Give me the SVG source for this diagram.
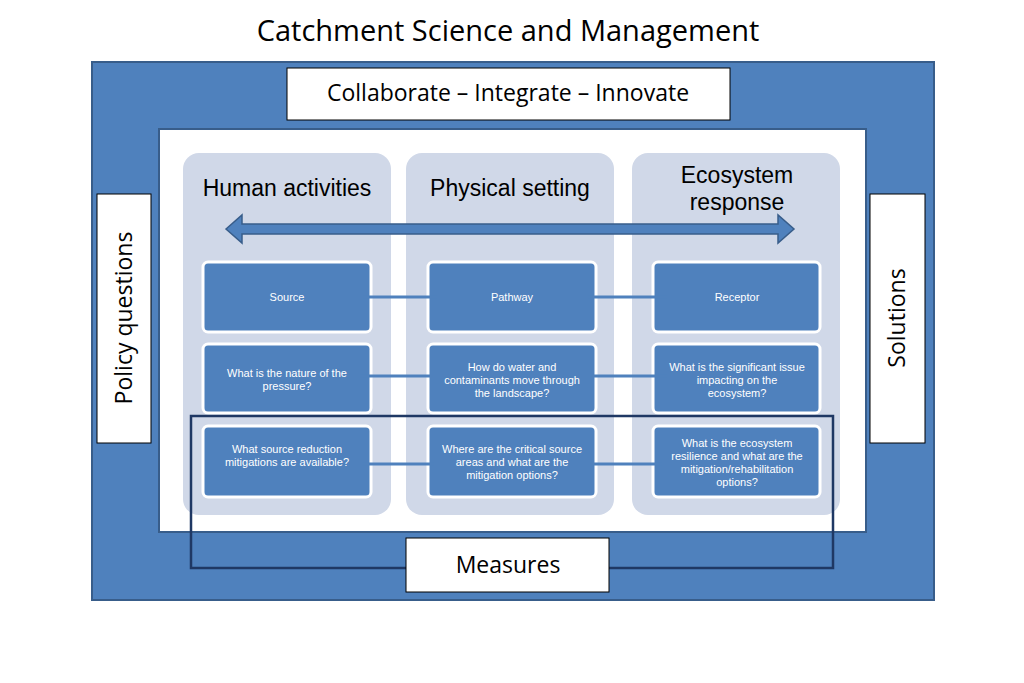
<svg xmlns="http://www.w3.org/2000/svg" width="1024" height="683" viewBox="0 0 1024 683">
<defs><style>
.t{font-family:"Liberation Sans",Arial,sans-serif;fill:#fff;font-size:11px;text-anchor:middle}
.h{font-family:"Liberation Sans",Arial,sans-serif;fill:#000;font-size:23px;text-anchor:middle}
.c{font-family:"Open Sans","Liberation Sans",sans-serif;fill:#000;text-anchor:middle}
.n{fill:#4f81bd;stroke:#fff;stroke-width:3}
.col{fill:#d0d8e8}
.wb{fill:#fff;stroke:#000;stroke-width:1}
.cn{stroke:#4f81bd;stroke-width:3;fill:none}
</style></defs>
<rect width="1024" height="683" fill="#fff"/>
<text class="c" x="508" y="41" font-size="29">Catchment Science and Management</text>
<rect x="92" y="62" width="842" height="538" fill="#4f81bd" stroke="#385d8a" stroke-width="2"/>
<g id="collab"><rect class="wb" x="287" y="68" width="443" height="52"/><text class="c" x="508" y="101" font-size="23">Collaborate – Integrate – Innovate</text></g>
<rect x="159" y="129" width="707" height="403" fill="#fff" stroke="#385d8a" stroke-width="2"/>
<g id="policy"><rect class="wb" x="97" y="194" width="54" height="249"/><text class="c" font-size="23" transform="translate(132,318) rotate(-90)">Policy questions</text></g>
<g id="solutions"><rect class="wb" x="870" y="194" width="55" height="249"/><text class="c" font-size="23" transform="translate(905,318) rotate(-90)">Solutions</text></g>
<g id="col1"><rect class="col" x="183" y="153" width="208" height="362" rx="16"/><text class="h" x="287" y="196">Human activities</text></g>
<g id="col2"><rect class="col" x="406" y="153" width="208" height="362" rx="16"/><text class="h" x="510" y="196">Physical setting</text></g>
<g id="col3"><rect class="col" x="632" y="153" width="208" height="362" rx="16"/><text class="h" x="737" y="183">Ecosystem</text><text class="h" x="737" y="210">response</text></g>
<path id="arrow" d="M226,229 L242,215 L242,224 L778,224 L778,215 L794,229 L778,243 L778,234 L242,234 L242,243 Z" fill="#4f81bd" stroke="#385d8a" stroke-width="1.5"/>
<g id="n1"><rect class="n" x="203" y="262" width="168" height="70" rx="5"/><text class="t" x="287" y="301">Source</text></g>
<g id="n2"><rect class="n" x="428" y="262" width="168" height="70" rx="5"/><text class="t" x="512" y="301">Pathway</text></g>
<g id="n3"><rect class="n" x="653" y="262" width="167" height="70" rx="5"/><text class="t" x="737" y="301">Receptor</text></g>
<g id="n4"><rect class="n" x="203" y="344" width="168" height="69" rx="5"/><text class="t" x="287" y="377">What is the nature of the</text><text class="t" x="287" y="390">pressure?</text></g>
<g id="n5"><rect class="n" x="428" y="344" width="168" height="69" rx="5"/><text class="t" x="512" y="371">How do water and</text><text class="t" x="512" y="384">contaminants move through</text><text class="t" x="512" y="397">the landscape?</text></g>
<g id="n6"><rect class="n" x="653" y="344" width="167" height="69" rx="5"/><text class="t" x="737" y="371">What is the significant issue</text><text class="t" x="737" y="384">impacting on the</text><text class="t" x="737" y="397">ecosystem?</text></g>
<g id="n7"><rect class="n" x="203" y="426" width="168" height="71" rx="5"/><text class="t" x="287" y="453">What source reduction</text><text class="t" x="287" y="466">mitigations are available?</text></g>
<g id="n8"><rect class="n" x="428" y="426" width="168" height="71" rx="5"/><text class="t" x="512" y="453">Where are the critical source</text><text class="t" x="512" y="466">areas and what are the</text><text class="t" x="512" y="479">mitigation options?</text></g>
<g id="n9"><rect class="n" x="653" y="426" width="167" height="71" rx="5"/><text class="t" x="737" y="447">What is the ecosystem</text><text class="t" x="737" y="460">resilience and what are the</text><text class="t" x="737" y="473">mitigation/rehabilitation</text><text class="t" x="737" y="486">options?</text></g>
<g id="connectors">
<line class="cn" x1="363" y1="297" x2="437" y2="297"/><line class="cn" x1="588" y1="297" x2="667" y2="297"/>
<line class="cn" x1="360" y1="376" x2="430" y2="376"/><line class="cn" x1="594" y1="376" x2="667" y2="376"/>
<line class="cn" x1="362" y1="464" x2="434" y2="464"/><line class="cn" x1="594" y1="464" x2="662" y2="464"/>
</g>
<rect id="measuresframe" x="191" y="416" width="642" height="152" fill="none" stroke="#1f3864" stroke-width="2.5"/>
<g id="measures"><rect class="wb" x="406" y="538" width="203" height="54"/><text class="c" x="508" y="573" font-size="23">Measures</text></g>
</svg>
